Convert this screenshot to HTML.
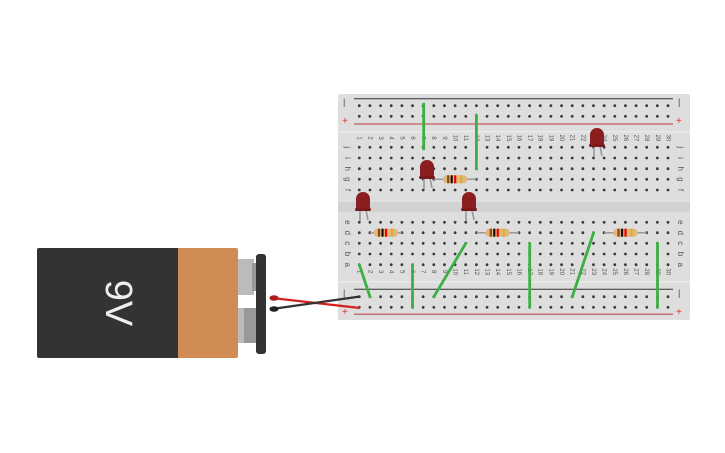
<!DOCTYPE html>
<html><head><meta charset="utf-8"><style>
html,body{margin:0;padding:0;background:#fff;width:725px;height:453px;overflow:hidden}
svg{display:block}
text{font-family:"Liberation Sans",sans-serif}
</style></head><body>
<svg id="s" width="725" height="453" viewBox="0 0 725 453" xmlns="http://www.w3.org/2000/svg">
<!-- battery -->
<rect x="37" y="248" width="142" height="110" rx="2" fill="#333"/>
<rect x="178" y="248" width="60" height="110" rx="2" fill="#d08c52"/>
<rect x="178" y="248" width="4" height="110" fill="#d08c52"/>
<rect x="238" y="259" width="16" height="36" fill="#bbb"/>
<rect x="252" y="263" width="5" height="28" fill="#999"/>
<rect x="238" y="308" width="8" height="35" fill="#bbb"/>
<rect x="244" y="308" width="13" height="35" fill="#999"/>
<rect x="256" y="254" width="10" height="100" rx="3" fill="#333"/>
<text x="0" y="0" transform="translate(106,303) rotate(90)" font-size="38" fill="#eee" text-anchor="middle">9V</text>
<!-- breadboard -->
<rect x="338" y="94" width="352" height="226" rx="2" fill="#dedede"/>
<rect x="338" y="131" width="352" height="1.5" fill="#eaeaea"/>
<rect x="338" y="202" width="352" height="10" fill="#d2d2d2"/>
<rect x="338" y="281" width="352" height="1.5" fill="#eaeaea"/>
<line x1="354" y1="98.7" x2="673" y2="98.7" stroke="#333" stroke-width="1"/>
<line x1="354" y1="124" x2="673" y2="124" stroke="#c87070" stroke-width="1.5"/>
<line x1="354" y1="289.3" x2="673" y2="289.3" stroke="#333" stroke-width="1"/>
<line x1="354" y1="314.3" x2="673" y2="314.3" stroke="#c87070" stroke-width="1.5"/>
<g font-size="9" fill="#444">
<text x="343" y="105">|</text><text x="678" y="105">|</text>
<text x="342" y="124" fill="#d33" font-size="10">+</text><text x="676" y="124" fill="#d33" font-size="10">+</text>
<text x="343" y="296">|</text><text x="678" y="296">|</text>
<text x="342" y="315" fill="#d33" font-size="10">+</text><text x="676" y="315" fill="#d33" font-size="10">+</text>
</g>
<g id="holes" fill="#3a3a3a"></g>
<g id="labels" font-size="6" fill="#555"></g>
<!-- wires green -->
<g stroke="#3cb043" stroke-width="2.8" stroke-linecap="round">
<line x1="423.7" y1="104" x2="423.7" y2="149"/>
<line x1="476.4" y1="115" x2="476.4" y2="169"/>
<line x1="359.3" y1="264.7" x2="370" y2="296.7"/>
<line x1="412.5" y1="264.7" x2="412.5" y2="307.3"/>
<line x1="465.8" y1="243.3" x2="433.9" y2="296.7"/>
<line x1="529.7" y1="243.3" x2="529.7" y2="307.3"/>
<line x1="593.6" y1="232.7" x2="572.3" y2="296.7"/>
<line x1="657.5" y1="243.3" x2="657.5" y2="307.3"/>
</g>
<!-- resistors -->
<g id="res"></g>
<!-- LEDs -->
<g id="leds"></g>
<!-- battery wires -->
<line x1="272" y1="298" x2="360" y2="308" stroke="#d42020" stroke-width="2.2"/>
<line x1="272" y1="309" x2="360" y2="296.5" stroke="#333" stroke-width="2.2"/>
<ellipse cx="274" cy="298" rx="4.5" ry="2.8" fill="#a81c1c"/>
<ellipse cx="274" cy="309" rx="4.5" ry="2.8" fill="#222"/>
</svg>
<script>
var NS="http://www.w3.org/2000/svg";
function el(p,t,a){var e=document.createElementNS(NS,t);for(var k in a)e.setAttribute(k,a[k]);p.appendChild(e);return e;}
var H=document.getElementById('holes'),L=document.getElementById('labels');
var p=10.645,x0=359.3;
function cx(c){return x0+(c-1)*p;}
var rails=[105.7,116.3,296.7,307.3];
rails.forEach(function(y){for(var c=1;c<=30;c++)el(H,'circle',{cx:cx(c),cy:y,r:1.4});});
var rows=[147.3,158,168.7,179.3,190,222.3,232.7,243.3,254,264.7];
rows.forEach(function(y){for(var c=1;c<=30;c++)el(H,'circle',{cx:cx(c),cy:y,r:1.4});});
var letters=['j','i','h','g','f','e','d','c','b','a'];
rows.forEach(function(y,i){
 [347,680].forEach(function(x){var t=el(L,'text',{x:0,y:0,transform:'translate('+x+','+y+') rotate(90)','text-anchor':'middle','dominant-baseline':'middle','font-size':'8'});t.textContent=letters[i];});
});
[138,271.7].forEach(function(y){for(var c=1;c<=30;c++){var t=el(L,'text',{x:0,y:0,transform:'translate('+cx(c)+','+y+') rotate(90)','text-anchor':'middle','dominant-baseline':'middle'});t.textContent=c;}});
var R=document.getElementById('res');
function res(c1,c2,y){
 var x1=cx(c1),x2=cx(c2),m=(x1+x2)/2;
 el(R,'line',{x1:x1,y1:y,x2:x2,y2:y,stroke:'#999','stroke-width':1.5});
 el(R,'rect',{x:m-12,y:y-4,width:24,height:8,rx:3.5,fill:'#e0b87c'});
 [['#8b4513',-8],['#111',-4.5],['#e00',-1],['#d4af37',5]].forEach(function(b){el(R,'rect',{x:m+b[1],y:y-4,width:2.2,height:8,fill:b[0]});});
}
res(8,12,179.3);res(2,5,232.7);res(12,16,232.7);res(24,28,232.7);
var D=document.getElementById('leds');
function led(x,y,top){
 // y is dome top
 el(D,'line',{x1:x-3,y1:y+18,x2:x-3,y2:y+29,stroke:'#999','stroke-width':1.6});
 el(D,'line',{x1:x+3,y1:y+18,x2:x+5,y2:y+28,stroke:'#999','stroke-width':1.6});
 el(D,'path',{d:'M'+(x-7)+','+(y+17)+' L'+(x-7)+','+(y+7)+' A7,7 0 0 1 '+(x+7)+','+(y+7)+' L'+(x+7)+','+(y+17)+' Z',fill:'#8b1f1f'});
 el(D,'rect',{x:x-8,y:y+16,width:16,height:3,rx:1.5,fill:'#7a1a1a'});
}
led(427,160);led(597,128);led(363,192);led(469,192);
</script>
</body></html>
